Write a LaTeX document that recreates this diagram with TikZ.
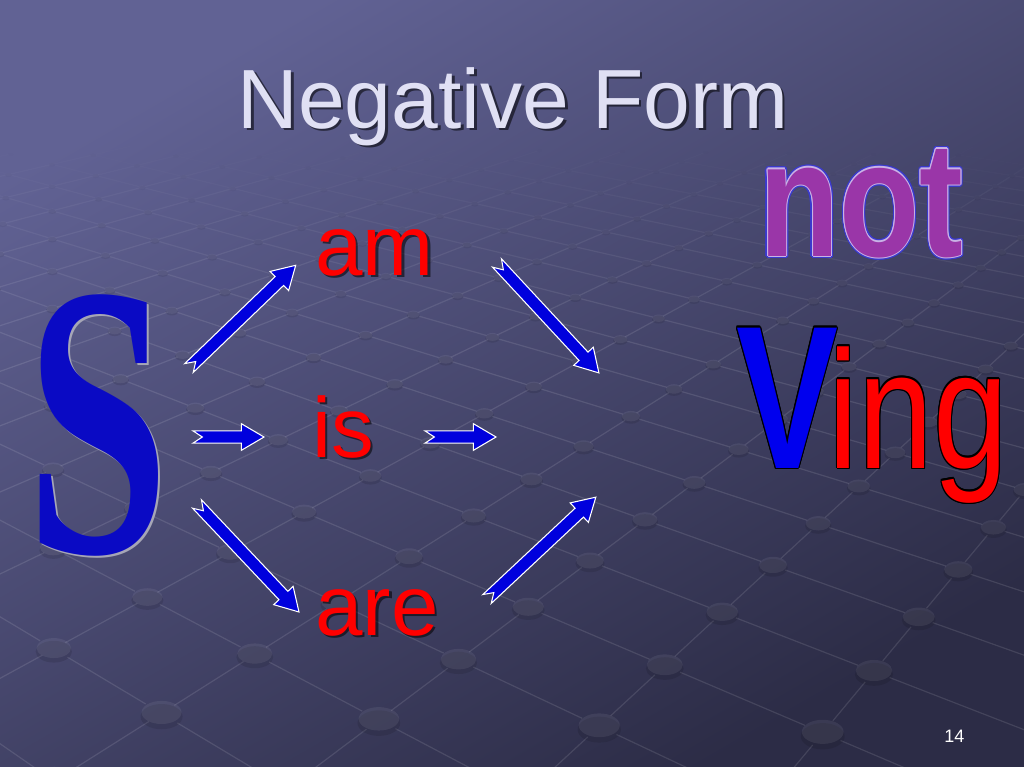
\documentclass[tikz,border=0pt]{standalone}
\usepackage{fontspec}
\setmainfont{Liberation Sans}
\newfontfamily\subjfont{Liberation Serif}
\usetikzlibrary{calc}

\definecolor{bgtop}{HTML}{616294}
\definecolor{bgmid}{HTML}{4A4B76}
\definecolor{bgbot}{HTML}{2C2C46}
\definecolor{titlecol}{HTML}{E0E0F4}
\definecolor{wordred}{HTML}{FF0000}
\definecolor{arrowblue}{HTML}{0000DD}
\definecolor{subjblue}{HTML}{0A0AC4}
\definecolor{subjgray}{HTML}{A6A6B6}
\definecolor{notfill}{HTML}{9A36A8}
\definecolor{notline}{HTML}{3A3AD0}
\definecolor{notrim}{HTML}{C9B2E6}
\definecolor{vblue}{HTML}{0000EE}

\tikzstyle{titletext}=[inner sep=0pt, anchor=base, text=titlecol,
                font=\fontsize{63}{70}\selectfont]
\tikzstyle{verb}=[inner sep=0pt, anchor=base west, text=wordred,
                font=\fontsize{64}{70}\selectfont]
\tikzstyle{subj}=[inner sep=0pt, anchor=base west, xscale=0.66, text=subjblue,
                font=\subjfont\bfseries\fontsize{292}{300}\selectfont]
\tikzstyle{nottext}=[inner sep=0pt, anchor=base west, xscale=0.8, text=notfill,
                font=\bfseries\fontsize{123}{130}\selectfont]
\tikzstyle{vtext}=[inner sep=0pt, anchor=base west, xscale=0.75, text=vblue,
                font=\bfseries\fontsize{153}{160}\selectfont]
\tikzstyle{ingtext}=[inner sep=0pt, anchor=base west, xscale=0.8, text=wordred,
                font=\fontsize{126}{130}\selectfont]
\tikzstyle{pagenum}=[inner sep=0pt, anchor=base west, text=white,
                font=\fontsize{13.5}{15}\selectfont]
\tikzstyle{dropcopy}=[text=black, opacity=0.55, xshift=2pt, yshift=-2pt]
\tikzstyle{barrow}=[fill=arrowblue, draw=white, line width=0.8pt]
\tikzstyle{gridline}=[draw=white, line width=0.9pt]
\tikzstyle{griddot}=[fill=white]
\tikzstyle{dotshade}=[fill=black]

% notched block arrow from tail coordinate #1 to tip coordinate #2
\newcommand{\blockarrow}[2]{%
  \filldraw[barrow] let \p1=($(#2)-(#1)$), \n1={atan2(\y1,\x1)},
    \n2={veclen(\x1,\y1)} in [shift={(#1)}, rotate=\n1]
    (0pt,4.6pt) -- ({\n2*1pt-17pt},4.6pt) -- ({\n2*1pt-17pt},10pt)
    -- ({\n2*1pt},0pt) -- ({\n2*1pt-17pt},-10pt) -- ({\n2*1pt-17pt},-4.6pt)
    -- (0pt,-4.6pt) -- (7pt,0pt) -- cycle;}

\begin{document}
\begin{tikzpicture}[x=0.75pt,y=-0.75pt,
  declare function={gw(\i,\j)=1-0.0603*\i+0.0548*\j;
                    gx(\i,\j)=(81.47*\i+87.3*\j+645)/gw(\i,\j);
                    gy(\i,\j)=(11.58*\i-10.52*\j+520)/gw(\i,\j);
                    gr(\i,\j)=13/(gw(\i,\j)*gw(\i,\j));
                    gfade(\i,\j)=max(0,min(1,(2.1-gw(\i,\j))/0.8));}]
\useasboundingbox (0,0) rectangle (1024,767);

% background
\shade[top color=bgtop, middle color=bgmid, bottom color=bgbot, shading angle=30]
  (0,0) rectangle (1024,767);

% floor grid in perspective: lines stop at the dots
\begin{scope}
\clip (0,0) rectangle (1024,767);
\foreach \i in {-20,...,3}{
  \foreach \j in {-7,...,22}{
    \pgfmathsetmacro{\fade}{gfade(\i,\j)}
    \ifdim\fade pt>0pt
      \draw[gridline, opacity=0.11*\fade,
            shorten <={0.66pt*gr(\i,\j)}, shorten >={0.66pt*gr(\i+1,\j)}]
        ({gx(\i,\j)},{gy(\i,\j)}) -- ({gx(\i+1,\j)},{gy(\i+1,\j)});
      \draw[gridline, opacity=0.11*\fade,
            shorten <={0.54pt*gr(\i,\j)}, shorten >={0.54pt*gr(\i,\j+1)}]
        ({gx(\i,\j)},{gy(\i,\j)}) -- ({gx(\i,\j+1)},{gy(\i,\j+1)});
      \fill[dotshade, opacity=0.10*\fade] ({gx(\i,\j)},{gy(\i,\j)+0.15*gr(\i,\j)})
        ellipse [x radius={gr(\i,\j)}, y radius={0.6*gr(\i,\j)}];
      \fill[griddot, opacity=0.07*\fade] ({gx(\i,\j)},{gy(\i,\j)-0.05*gr(\i,\j)})
        ellipse [x radius={0.95*gr(\i,\j)}, y radius={0.55*gr(\i,\j)}];
    \fi
  }
}
\end{scope}

% title
\node[titletext, dropcopy] at (513,128) {Negative Form};
\node[titletext] (title) at (513,128) {Negative Form};

% subject
\node[subj, text=subjgray, xshift=2.5pt, yshift=-2pt] at (26,552) {S};
\node[subj] (subj) at (26,552) {S};

% forms of be
\node[verb, dropcopy] at (315,275) {am};
\node[verb] (am) at (315,275) {am};
\node[verb, dropcopy] at (312,457) {is};
\node[verb] (is) at (312,457) {is};
\node[verb, dropcopy] at (315,635) {are};
\node[verb] (are) at (315,635) {are};

% arrow ends
\coordinate (subj-am) at (189,368);
\coordinate (am-in) at (296,265);
\coordinate (subj-is) at (193,437);
\coordinate (is-in) at (264,437);
\coordinate (subj-are) at (197,504);
\coordinate (are-in) at (299,612);
\coordinate (am-out) at (497,263);
\coordinate (ving-top) at (599,373);
\coordinate (is-out) at (425,437);
\coordinate (ving-mid) at (496,437);
\coordinate (are-out) at (487,599);
\coordinate (ving-low) at (596,497);

% arrows
\blockarrow{subj-am}{am-in}
\blockarrow{subj-is}{is-in}
\blockarrow{subj-are}{are-in}
\blockarrow{am-out}{ving-top}
\blockarrow{is-out}{ving-mid}
\blockarrow{are-out}{ving-low}

% not
\foreach \a in {0,30,...,330}
  \node[nottext, text=notline, xshift={2.2pt*cos(\a)}, yshift={2.2pt*sin(\a)}] at (759,256) {not};
\foreach \a in {0,45,...,315}
  \node[nottext, text=notrim, xshift={0.8pt*cos(\a)}, yshift={0.8pt*sin(\a)}] at (759,256) {not};
\node[nottext] (not) at (759,256) {not};

% Ving
\foreach \a in {0,30,...,330}
  \node[vtext, text=black, xshift={1pt*cos(\a)}, yshift={1pt*sin(\a)}] at (736,468) {V};
\node[vtext] (V) at (736,468) {V};
\coordinate (ing-pos) at ([xshift=-7.5pt]V.base east);
\foreach \a in {0,30,...,330}
  \node[ingtext, text=black, xshift={1pt*cos(\a)}, yshift={1pt*sin(\a)}] at (ing-pos) {ing};
\node[ingtext] (ing) at (ing-pos) {ing};

% slide number
\node[pagenum] (page) at (944,742) {14};

\end{tikzpicture}
\end{document}
